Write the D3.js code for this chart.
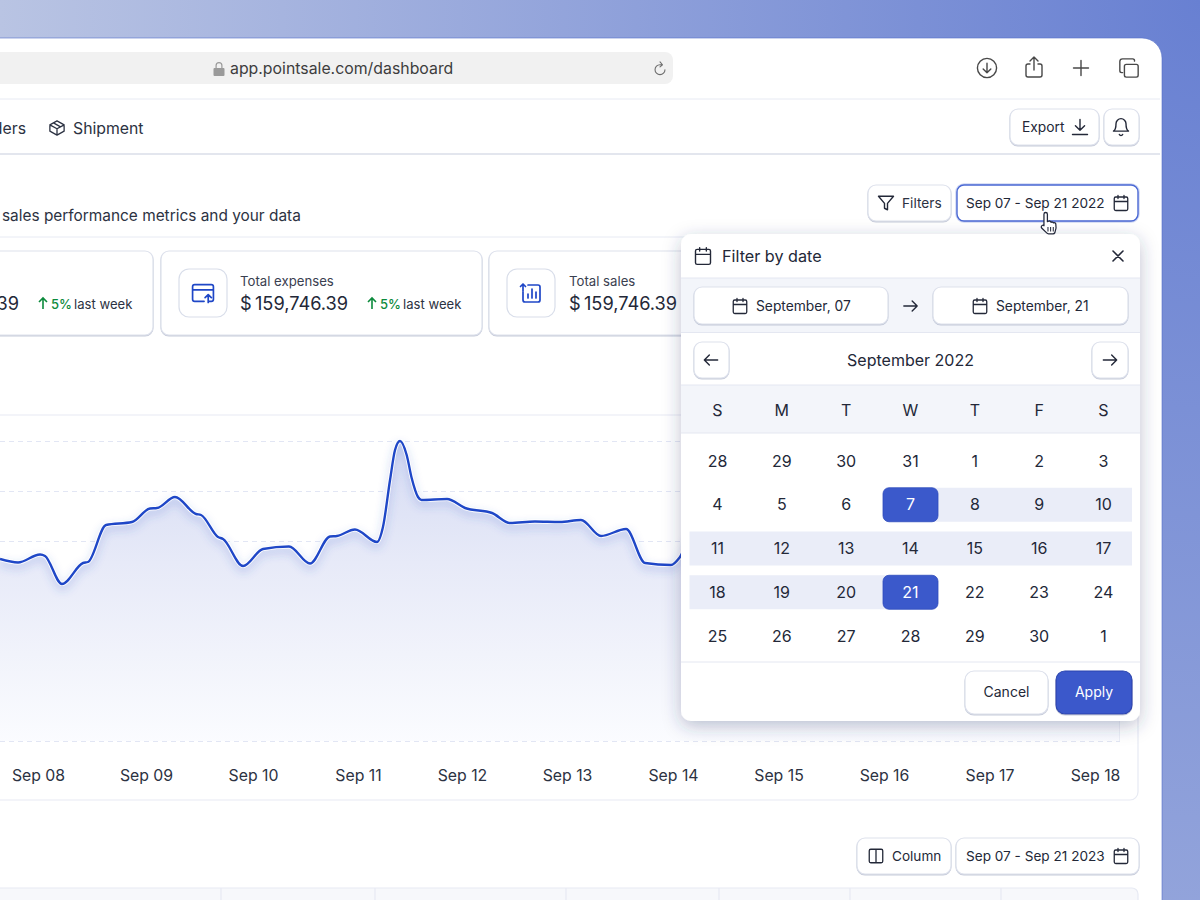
<!DOCTYPE html>
<html>
<head>
<meta charset="utf-8">
<title>Sales dashboard</title>
<script src="https://cdn.jsdelivr.net/npm/d3@7"></script>
<style>
  html, body { margin: 0; padding: 0; background: #fff; overflow: hidden; }
  svg { display: block; }
  text { font-family: Inter, "Noto Sans", sans-serif; fill: #232838; }
</style>
</head>
<body>
<div id="chart"></div>
<script>
// Sales line. Day of month (fractions between ticks) and value
// The part after Sep 14 sits behind the popup and is a rough guess
const days = [7.648, 7.815, 8.019, 8.065, 8.222, 8.417, 8.463, 8.63, 8.87, 9.037, 9.103, 9.271,
  9.467, 9.514, 9.673, 9.72, 9.907, 10.095, 10.343, 10.543, 10.733, 10.8, 10.971, 11.183,
  11.24, 11.308, 11.356, 11.404, 11.468, 11.516, 11.577, 11.61, 11.856, 12.029, 12.286, 12.457,
  12.695, 12.933, 13.132, 13.321, 13.557, 13.736, 13.981, 14.066, 14.198, 15, 16, 17, 18.23];
const sales = [36.4, 35.7, 37.3, 37, 31.4, 35.6, 35.8, 43.2, 43.8, 46.5, 46.6, 48.8,
  45.4, 45.2, 40.8, 40.4, 35, 38.4, 38.9, 35.5, 40.9, 41, 42.3, 39.8,
  42.8, 52.2, 58.2, 60, 57.2, 52.6, 48.8, 48.2, 48.4, 46.6, 45.6, 43.6,
  43.9, 43.8, 44.2, 41, 42.4, 35.6, 35.2, 36.8, 42, 40, 42, 40, 38];

const tickDays = [8, 9, 10, 11, 12, 13, 14, 15, 16, 17, 18];
const gridValues = [0, 10, 20, 30, 40, 50, 60];

// Calendar
const weekdays = ["S", "M", "T", "W", "T", "F", "S"];
const calendarDays = [28, 29, 30, 31, 1, 2, 3,
  4, 5, 6, 7, 8, 9, 10,
  11, 12, 13, 14, 15, 16, 17,
  18, 19, 20, 21, 22, 23, 24,
  25, 26, 27, 28, 29, 30, 1];
const rangeStart = 10; // index of the 7th
const rangeEnd = 24;   // index of the 21st

const tableDividers = [221, 375, 566, 719, 850, 1001];

const width = 1200;
const height = 900;
const dark = "#232838";
const blue = "#1f47c7";
const accent = "#3b59cb";
const border = "#dde1ec";
const hairline = "#e7eaf3";
const tint = "#f3f5fa";
const green = "#0c8a3c";

const icons = {
  calendar: "M8 2v4M16 2v4M3 10h18M5 4h14a2 2 0 0 1 2 2v14a2 2 0 0 1-2 2H5a2 2 0 0 1-2-2V6a2 2 0 0 1 2-2z",
  filter: "M22 3H2l8 9.46V19l4 2v-8.54L22 3z",
  download: "M12 3v13M6.5 10.5l5.5 5.5 5.5-5.5M3 21h18",
  bell: "M6 8a6 6 0 0 1 12 0c0 7 3 9 3 9H3s3-2 3-9M10 21a2.2 2.2 0 0 0 4 0",
  box: "M21 8l-9-5-9 5v8l9 5 9-5V8zM3 8l9 5 9-5M12 13v8M7.5 5.5l9 5",
  right: "M4 12h16M14 6l6 6-6 6",
  left: "M20 12H4M10 6l-6 6 6 6",
  close: "M18 6L6 18M6 6l12 12",
  columns: "M5 3h14a2 2 0 0 1 2 2v14a2 2 0 0 1-2 2H5a2 2 0 0 1-2-2V5a2 2 0 0 1 2-2zM12 3v18",
  circleDown: "M12 2a10 10 0 1 0 0 20a10 10 0 0 0 0-20zM12 7v10M8 13l4 4 4-4",
  share: "M12 15V2M8 6l4-4 4 4M8 9H6a2 2 0 0 0-2 2v9a2 2 0 0 0 2 2h12a2 2 0 0 0 2-2v-9a2 2 0 0 0-2-2h-2",
  plus: "M12 2v20M2 12h20",
  tabs: "M9 8h11a2 2 0 0 1 2 2v10a2 2 0 0 1-2 2H9a2 2 0 0 1-2-2V10a2 2 0 0 1 2-2zM18 4.5A2 2 0 0 0 16 2H5a3 3 0 0 0-3 3v10a2 2 0 0 0 2 2h1",
  reload: "M19 13a7 7 0 1 1-7-7h3M12 2l3.5 4L12 9",
  card: "M6 4h14a2 2 0 0 1 2 2v12a2 2 0 0 1-2 2h-3M2 6a2 2 0 0 1 2-2h3M2 6v12a2 2 0 0 0 2 2h9M2 9h20M17 21v-7M14 16.5l3-3 3 3",
  bars: "M9 4h10a2 2 0 0 1 2 2v13a2 2 0 0 1-2 2H6a2 2 0 0 1-2-2v-8M4 10V3M1.5 5.5L4 3l2.5 2.5M9 17v-4M13 17V8M17 17v-6"
};

const svg = d3.select("#chart")
  .append("svg")
  .attr("width", width)
  .attr("height", height);

const defs = svg.append("defs");

const bg = defs.append("radialGradient")
  .attr("id", "bg")
  .attr("gradientUnits", "userSpaceOnUse")
  .attr("cx", 1200).attr("cy", 0).attr("r", 1200)
  .attr("gradientTransform", "translate(1200,0) scale(1,1.45) translate(-1200,0)");
bg.append("stop").attr("offset", 0).attr("stop-color", "#6880d2");
bg.append("stop").attr("offset", 1).attr("stop-color", "#b9c4e3");

const areaFill = defs.append("linearGradient")
  .attr("id", "areaFill")
  .attr("gradientUnits", "userSpaceOnUse")
  .attr("x1", 0).attr("x2", 0).attr("y1", 441).attr("y2", 745);
areaFill.append("stop").attr("offset", 0).attr("stop-color", "#d5dbf3");
areaFill.append("stop").attr("offset", 0.4).attr("stop-color", "#e7eaf8");
areaFill.append("stop").attr("offset", 0.7).attr("stop-color", "#f1f3fb");
areaFill.append("stop").attr("offset", 1).attr("stop-color", "#fbfcff");

function shadow(id, dy, blur, color, opacity) {
  const f = defs.append("filter")
    .attr("id", id)
    .attr("x", "-20%").attr("y", "-20%").attr("width", "140%").attr("height", "150%");
  f.append("feDropShadow")
    .attr("dx", 0).attr("dy", dy)
    .attr("stdDeviation", blur)
    .attr("flood-color", color)
    .attr("flood-opacity", opacity);
}
shadow("soft", 1, 0.6, "#aeb5c9", 0.7);
shadow("pop", 5, 9, "#2c3763", 0.3);
shadow("glow", 4, 4, "#3b59cb", 0.3);

defs.append("clipPath").attr("id", "popClip")
  .append("rect")
  .attr("x", 681).attr("y", 234).attr("width", 459).attr("height", 487).attr("rx", 10);

function box(g, x, y, w, h, r, opts = {}) {
  return g.append("rect")
    .attr("x", x).attr("y", y).attr("width", w).attr("height", h).attr("rx", r)
    .attr("fill", opts.fill || "#fff")
    .attr("stroke", opts.stroke || border)
    .attr("stroke-width", opts.sw || 1.2)
    .attr("filter", opts.flat ? null : "url(#soft)");
}

function label(g, str, x, y, size, opts = {}) {
  return g.append("text")
    .attr("x", x).attr("y", y).attr("dy", "0.35em")
    .attr("text-anchor", opts.anchor || "start")
    .attr("font-size", size)
    .attr("font-weight", opts.weight || 400)
    .style("fill", opts.color || dark)
    .text(str);
}

function icon(g, name, cx, cy, size, opts = {}) {
  const k = size / 24;
  return g.append("path")
    .attr("d", icons[name])
    .attr("transform", `translate(${cx - size / 2},${cy - size / 2}) scale(${k})`)
    .attr("fill", "none")
    .attr("stroke", opts.color || dark)
    .attr("stroke-width", (opts.sw || 1.4) / k)
    .attr("stroke-linecap", "round")
    .attr("stroke-linejoin", "round");
}

// Backdrop and browser window
svg.append("rect").attr("width", width).attr("height", height).attr("fill", "url(#bg)");
svg.append("rect")
  .attr("x", -40).attr("y", 38).attr("width", 1202).attr("height", 920).attr("rx", 20)
  .attr("fill", "#fff")
  .attr("stroke", "#5570c8").attr("stroke-opacity", 0.6).attr("stroke-width", 1);

const chrome = svg.append("g");
chrome.append("rect")
  .attr("x", -20).attr("y", 52).attr("width", 693).attr("height", 32).attr("rx", 8)
  .attr("fill", "#f1f1f1");
chrome.append("path")
  .attr("d", "M214.5 68h9a1 1 0 0 1 1 1v6a1 1 0 0 1-1 1h-9a1 1 0 0 1-1-1v-6a1 1 0 0 1 1-1zM215.5 68v-2.5a3.5 3.5 0 0 1 7 0V68h-1.2v-2.5a2.3 2.3 0 0 0-4.6 0V68z")
  .attr("fill", "#9a9a9a");
label(chrome, "app.pointsale.com/dashboard", 230, 68.5, 15.85, { color: "#3d3d3d" });
icon(chrome, "reload", 660, 69, 17, { color: "#6d6d6d", sw: 1.1 });
icon(chrome, "circleDown", 987, 68, 23, { color: "#484848", sw: 1.4 });
icon(chrome, "share", 1034, 67, 24, { color: "#484848", sw: 1.4 });
icon(chrome, "plus", 1081, 68, 18, { color: "#484848", sw: 1.4 });
icon(chrome, "tabs", 1129, 68, 22, { color: "#484848", sw: 1.4 });
chrome.append("line").attr("x1", 0).attr("x2", 1160).attr("y1", 99).attr("y2", 99)
  .attr("stroke", hairline).attr("stroke-width", 1);

// Nav bar
const nav = svg.append("g");
label(nav, "Orders", 26, 128, 15.8, { anchor: "end", color: "#2c3242" });
icon(nav, "box", 57, 128, 19, { color: "#2c3242", sw: 1.3 });
label(nav, "Shipment", 73, 128, 15.8, { color: "#2c3242" });
box(nav, 1010, 109, 89, 36, 8);
label(nav, "Export", 1022, 127, 13.8);
icon(nav, "download", 1080, 127, 20, { sw: 1.4 });
box(nav, 1104, 109, 35, 36, 8);
icon(nav, "bell", 1121, 127, 20, { sw: 1.4 });
nav.append("line").attr("x1", 0).attr("x2", 1160).attr("y1", 154).attr("y2", 154)
  .attr("stroke", "#e3e6ee").attr("stroke-width", 2);

// Page header
const head = svg.append("g");
label(head, "sales performance metrics and your data", 2, 215.5, 15.4, { color: "#2c3242" });
box(head, 868, 185, 83, 36, 8);
icon(head, "filter", 886, 203, 18, { sw: 1.4 });
label(head, "Filters", 902, 203, 13.7, { color: "#2c3242" });
head.append("line").attr("x1", 0).attr("x2", 690).attr("y1", 237).attr("y2", 237)
  .attr("stroke", hairline).attr("stroke-width", 1);

// Stat cards
const statLabels = ["Total expenses", "Total sales"];
const statValue = "$\u2009159,746.39";
const statChange = "5%";
const statNote = "last week";
const cards = svg.append("g");

box(cards, -200, 251, 353, 84, 8);
label(cards, statValue, 19, 304, 18.2, { anchor: "end" });
box(cards, 161, 251, 321, 84, 8);
box(cards, 489, 251, 321, 84, 8);

function changeTag(x) {
  cards.append("path")
    .attr("d", `M${x + 5} 309V298M${x + 1} 302l4-4 4 4`)
    .attr("fill", "none").attr("stroke", green).attr("stroke-width", 1.6);
  label(cards, statChange, x + 13, 304, 13, { color: green, weight: 500 });
  label(cards, statNote, x + 36, 304, 13.1, { color: "#2c3242" });
}
changeTag(38);
changeTag(367);

[[179, 240, statLabels[0], "card", 25], [507, 569, statLabels[1], "bars", 24]].forEach(d => {
  box(cards, d[0], 269, 48, 48, 10, { flat: true, stroke: "#d9deea" });
  icon(cards, d[3], d[0] + 24, 293, d[4], { color: blue, sw: 1.7 });
  label(cards, d[2], d[1], 281, 13.2, { color: "#3a4050" });
  label(cards, statValue, d[1], 304, 18.2);
});

// Chart card
const x = d3.scaleLinear()
  .domain([8, 9, 10, 11, 12, 13, 14, 18])
  .range([38, 146, 253, 358, 462, 567, 673, 1095]);
const y = d3.scaleLinear()
  .domain([0, 60])
  .range([741, 441]);

const chart = svg.append("g");
chart.append("rect")
  .attr("x", -20).attr("y", 415).attr("width", 1158).attr("height", 385).attr("rx", 8)
  .attr("fill", "#fff").attr("stroke", hairline).attr("stroke-width", 1.2);

const gridAxis = d3.axisLeft(y)
  .tickValues(gridValues)
  .tickSize(-1120)
  .tickFormat("");
chart.append("g")
  .call(gridAxis)
  .call(g => g.select(".domain").remove())
  .selectAll("line")
  .attr("stroke", "#e2e6f4")
  .attr("stroke-width", 1.2)
  .attr("stroke-dasharray", "5 4");

chart.append("line")
  .attr("x1", 1119.5).attr("x2", 1119.5).attr("y1", 415).attr("y2", 741)
  .attr("stroke", hairline);

const points = days.map((d, i) => [d, sales[i]]);
const area = d3.area()
  .x(d => x(d[0]))
  .y0(y(0))
  .y1(d => y(d[1]))
  .curve(d3.curveMonotoneX);
const line = d3.line()
  .x(d => x(d[0]))
  .y(d => y(d[1]))
  .curve(d3.curveMonotoneX);

chart.append("path").datum(points).attr("d", area).attr("fill", "url(#areaFill)");
chart.append("path").datum(points).attr("d", line)
  .attr("fill", "none").attr("stroke", "#fff").attr("stroke-width", 4)
  .attr("filter", "url(#glow)");
chart.append("path").datum(points).attr("d", line)
  .attr("fill", "none").attr("stroke", blue).attr("stroke-width", 2.4);

const timeAxis = d3.axisBottom(x)
  .tickValues(tickDays)
  .tickSize(0)
  .tickPadding(29)
  .tickFormat(d => "Sep " + String(d).padStart(2, "0"));
chart.append("g")
  .attr("transform", "translate(0,741)")
  .call(timeAxis)
  .call(g => g.select(".domain").remove())
  .selectAll("text")
  .attr("font-size", 15.8)
  .attr("font-family", "Inter")
  .style("fill", "#2c3242");

// Table below the chart
const table = svg.append("g");
box(table, 857, 838, 94, 36, 8);
icon(table, "columns", 876, 856, 18, { sw: 1.3 });
label(table, "Column", 892, 856, 13.6);
box(table, 956, 838, 183, 36, 8);
label(table, "Sep 07 - Sep 21 2023", 966, 856, 13.6);
icon(table, "calendar", 1121, 856, 18, { sw: 1.3 });
table.append("rect")
  .attr("x", -20).attr("y", 888).attr("width", 1158).attr("height", 40).attr("rx", 6)
  .attr("fill", "#f7f8fb").attr("stroke", hairline).attr("stroke-width", 1.2);
table.selectAll(".divider")
  .data(tableDividers)
  .enter().append("line")
  .attr("x1", d => d).attr("x2", d => d)
  .attr("y1", 888).attr("y2", 900)
  .attr("stroke", hairline).attr("stroke-width", 1.2);

// Active date button, sits above the popup
const active = svg.append("g");
active.append("rect")
  .attr("x", 957).attr("y", 185).attr("width", 181).attr("height", 36).attr("rx", 7)
  .attr("fill", "#fff").attr("stroke", "#cfd7f3").attr("stroke-width", 3.5);
active.append("rect")
  .attr("x", 957).attr("y", 185).attr("width", 181).attr("height", 36).attr("rx", 7)
  .attr("fill", "#fff").attr("stroke", "#4a68d4").attr("stroke-width", 1.4);
label(active, "Sep 07 - Sep 21 2022", 966, 203, 13.6);
icon(active, "calendar", 1121, 203, 18, { sw: 1.3 });

// Date popup
const pop = svg.append("g");
pop.append("rect")
  .attr("x", 681).attr("y", 234).attr("width", 459).attr("height", 487).attr("rx", 10)
  .attr("fill", "#fff").attr("filter", "url(#pop)");
const inner = pop.append("g").attr("clip-path", "url(#popClip)");
inner.append("rect").attr("x", 681).attr("y", 278).attr("width", 459).attr("height", 54).attr("fill", tint);
inner.append("rect").attr("x", 681).attr("y", 385).attr("width", 459).attr("height", 48).attr("fill", tint);
[278, 332.5, 385, 433, 662].forEach(ly => {
  inner.append("line").attr("x1", 681).attr("x2", 1140).attr("y1", ly).attr("y2", ly)
    .attr("stroke", "#e4e7f1").attr("stroke-width", 1);
});

icon(pop, "calendar", 703, 256, 20, { sw: 1.4 });
label(pop, "Filter by date", 722, 256, 16.2);
icon(pop, "close", 1118, 256, 20, { sw: 1.6 });

box(pop, 694, 287, 194, 37, 8);
icon(pop, "calendar", 740, 306, 18, { sw: 1.3 });
label(pop, "September, 07", 756, 306, 13.8);
icon(pop, "right", 910.5, 306, 20, { sw: 1.4 });
box(pop, 933, 287, 195, 37, 8);
icon(pop, "calendar", 980, 306, 18, { sw: 1.3 });
label(pop, "September, 21", 996, 306, 13.8);

box(pop, 694, 342, 35, 36, 8);
icon(pop, "left", 711, 360, 20, { sw: 1.4 });
label(pop, "September 2022", 910.5, 360, 16, { anchor: "middle" });
box(pop, 1092, 342, 36, 36, 8);
icon(pop, "right", 1110, 360, 20, { sw: 1.4 });

const col = d3.scalePoint().domain(d3.range(7)).range([717.5, 1103.5]);
const row = d3.scalePoint().domain(d3.range(5)).range([461, 636]);

const bandRows = d3.range(Math.floor(rangeStart / 7), Math.floor(rangeEnd / 7) + 1);
pop.selectAll(".band")
  .data(bandRows)
  .enter().append("rect")
  .attr("x", r => {
    const first = Math.max(rangeStart, r * 7) % 7;
    return first === 0 ? col(0) - 28 : col(first);
  })
  .attr("width", r => {
    const first = Math.max(rangeStart, r * 7) % 7;
    const last = Math.min(rangeEnd, r * 7 + 6) % 7;
    const x0 = first === 0 ? col(0) - 28 : col(first);
    const x1 = last === 6 ? col(6) + 28.5 : col(last);
    return x1 - x0;
  })
  .attr("y", r => row(r) - 17)
  .attr("height", 34)
  .attr("fill", "#eaedf8");

[rangeStart, rangeEnd].forEach(i => {
  pop.append("rect")
    .attr("x", col(i % 7) - 27.5).attr("y", row(Math.floor(i / 7)) - 17)
    .attr("width", 55).attr("height", 34).attr("rx", 6)
    .attr("fill", accent).attr("stroke", "#2f4bbd").attr("stroke-width", 0.8);
});

pop.selectAll(".weekday")
  .data(weekdays)
  .enter().append("text")
  .attr("x", (d, i) => col(i))
  .attr("y", 410)
  .attr("dy", "0.35em")
  .attr("text-anchor", "middle")
  .attr("font-size", 16)
  .text(d => d);

pop.selectAll(".day")
  .data(calendarDays)
  .enter().append("text")
  .attr("x", (d, i) => col(i % 7))
  .attr("y", (d, i) => row(Math.floor(i / 7)))
  .attr("dy", "0.35em")
  .attr("text-anchor", "middle")
  .attr("font-size", 16)
  .style("fill", (d, i) => (i === rangeStart || i === rangeEnd) ? "#fff" : dark)
  .text(d => d);

box(pop, 965, 671, 83, 43, 9);
label(pop, "Cancel", 1006.5, 692, 14, { anchor: "middle" });
box(pop, 1056, 671, 76, 43, 9, { fill: accent, stroke: "#2a45b0" });
label(pop, "Apply", 1094, 692, 14, { anchor: "middle", color: "#fff" });

// Hand cursor over the date button
const hand = svg.append("g").attr("transform", "translate(1040.5,212.5) scale(1.15)");
hand.append("path")
  .attr("d", "M3 1.5a1.5 1.5 0 0 1 3 0V8l1-.4a1.4 1.4 0 0 1 2 .6l.3.3a1.4 1.4 0 0 1 2 .5 1.4 1.4 0 0 1 2 .9c.6 2.5.3 5-.8 7.6-.3.6-.9 1-1.6 1H7c-.6 0-1.2-.3-1.6-.8L1 13.5c-.6-.8-.3-1.8.4-2.2.7-.4 1.3-.2 1.6.2z")
  .attr("fill", "#fff").attr("stroke", "#23283a").attr("stroke-width", 1.1)
  .attr("stroke-linejoin", "round");
hand.append("path")
  .attr("d", "M6.5 12.5v4M8.8 12.5v4M11.1 12.5v4")
  .attr("stroke", "#23283a").attr("stroke-width", 0.9);
</script>
</body>
</html>
